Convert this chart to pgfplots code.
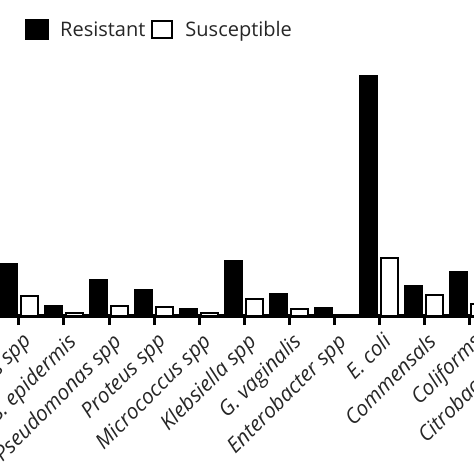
\documentclass[border=0pt]{standalone}
\usepackage{fontspec}
\setmainfont{Open Sans}
\usepackage{pgfplots}
\pgfplotsset{compat=1.18}
\begin{document}
\begin{tikzpicture}
\useasboundingbox (0pt,0pt) rectangle (474pt,474pt);
\clip (0pt,0pt) rectangle (474pt,474pt);
\begin{axis}[
  x=45pt, y=1pt,
  at={(-26pt,158pt)}, anchor=south west,
  xmin=-1, xmax=11.5, ymin=0, ymax=300,
  axis x line*=bottom, axis y line=none,
  x axis line style={line width=3.3pt, -},
  xtick={0,...,11},
  xticklabels={Streptococcus spp, S. epidermis, Pseudomonas spp, Proteus spp, Micrococcus spp, Klebsiella spp, G. vaginalis, Enterobacter spp, E. coli, Commensals, Coliforms, Citrobacter spp},
  xticklabel style={rotate=45, anchor=north east, font=\itshape\fontsize{21}{25}\selectfont, inner sep=2pt, text=black!85, yshift=-4pt, xshift=-1pt},
  tick align=outside, major tick length=9pt,
  x tick style={line width=3pt, black},
  ytick=\empty,
  ybar=4pt, bar width=17pt,
  clip=false,
  legend columns=2,
  legend style={draw=none, fill=none, at={(axis description cs:0.0907,0.955)}, anchor=west,
    font=\fontsize{20}{24}\selectfont, text=black!85, inner sep=0pt,
    /tikz/every even column/.append style={column sep=4pt}},
]
\addplot[fill=black, draw=black, line width=2pt,
  legend image code/.code={\fill[black] (0pt,-9.5pt) rectangle (22pt,9.5pt); \path[draw=none, fill=none] (22pt,0pt) -- (32pt,0pt);}]
  coordinates {(0,52) (1,10) (2,36) (3,26) (4,7) (5,55) (6,22) (7,8) (8,240) (9,30) (10,44)};
\addlegendentry{Resistant}
\addplot[fill=white, draw=black, line width=2pt,
  legend image code/.code={\draw[black, fill=white, line width=2pt] (1pt,-8.5pt) rectangle (21pt,8.5pt); \path[draw=none, fill=none] (22pt,0pt) -- (32pt,0pt);}]
  coordinates {(0,20) (1,3) (2,10) (3,9) (4,3) (5,17) (6,7) (7,0) (8,58) (9,21) (10,12)};
\addlegendentry{Susceptible}
\end{axis}
\end{tikzpicture}
\end{document}
